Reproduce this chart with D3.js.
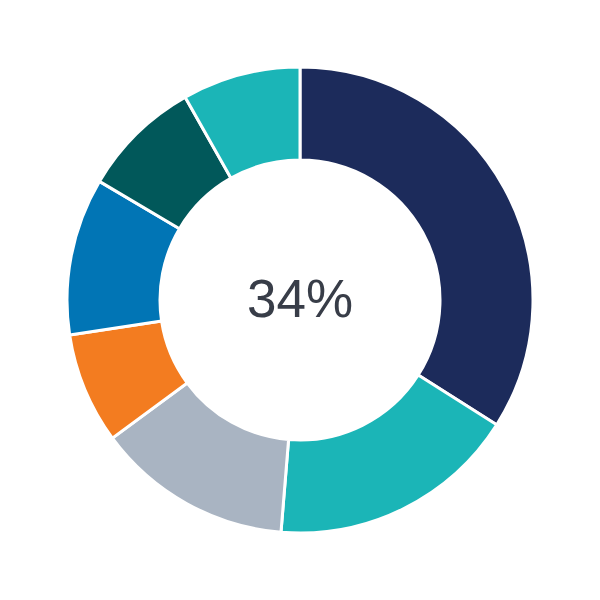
<!DOCTYPE html>
<html>
<head>
<meta charset="utf-8">
<script src="https://cdn.jsdelivr.net/npm/d3@7"></script>
<style>
  body { margin: 0; background: #fff; }
</style>
</head>
<body>
<div id="chart"></div>
<script>
// slice data, clockwise from 12 o'clock
var labels = ['A', 'B', 'C', 'D', 'E', 'F', 'G'];
var values = [34, 17.3, 13.6, 7.7, 10.9, 8.3, 8.2];
var colors = ['#1c2b5b', '#1bb5b7', '#a9b4c2', '#f37c20', '#0175b5', '#01585a', '#1bb5b7'];
var centerLabel = '34%';

var width = 600,
    height = 600,
    outerR = 233,
    innerR = 140;

var svg = d3.select('#chart').append('svg')
    .attr('width', width)
    .attr('height', height)
    .append('g')
    .attr('transform', 'translate(' + 300 + ',' + 300 + ')');

var pie = d3.pie()
    .sort(null)
    .value(function (d) { return d; });

var arc = d3.arc()
    .innerRadius(innerR)
    .outerRadius(outerR);

svg.selectAll('path')
    .data(pie(values))
    .enter().append('path')
    .attr('d', arc)
    .attr('fill', function (d, i) { return colors[i]; })
    .attr('stroke', '#fff')
    .attr('stroke-width', 3);

svg.append('text')
    .attr('text-anchor', 'middle')
    .attr('y', 17)
    .style('font-family', '"Liberation Sans", Arial, sans-serif')
    .style('font-size', '53px')
    .style('fill', '#383d48')
    .text(centerLabel);
</script>
</body>
</html>
